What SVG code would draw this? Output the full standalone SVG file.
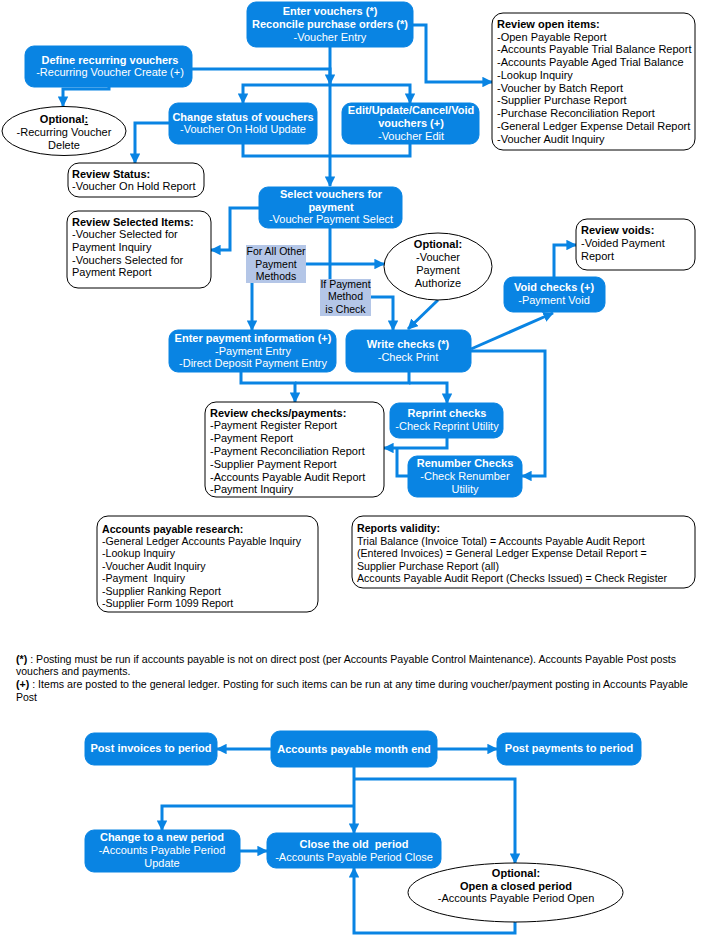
<svg xmlns="http://www.w3.org/2000/svg" width="711" height="937" viewBox="0 0 711 937">
<defs>
<marker id="ah" markerWidth="3.5" markerHeight="3.5" refX="3.2" refY="1.75" orient="auto" markerUnits="strokeWidth">
<path d="M0,0 L3.5,1.75 L0,3.5 z" fill="#0984e3"/>
</marker>
</defs>
<style>
text{font-family:"Liberation Sans",Arial,sans-serif;font-size:11px;}
.b{fill:#0984e3;stroke:#0984e3;stroke-width:1;}
.w{fill:#fff;stroke:#000;stroke-width:1;}
.lbl{fill:#b4c6e7;stroke:none;}
.wt{fill:#fff;text-anchor:middle;}
.bt{fill:#000;}
.ct{fill:#000;text-anchor:middle;}
.bold{font-weight:bold;}
.sm{font-size:10.6px;}
.lb{font-size:10.5px;}
.fn{font-size:10.5px;}
#connectors path{fill:none;stroke:#0984e3;stroke-width:3;}
.ar{marker-end:url(#ah);}
</style>
<rect width="711" height="937" fill="#fff"/>

<g id="connectors">
<path class="ar" d="M330,47 V186"/>
<path class="ar" d="M192,69 H330 V84"/>
<path class="ar" d="M330,85 H243 V103"/>
<path class="ar" d="M330,85 H410 V103"/>
<path class="ar" d="M413,25 H426 V82 H492"/>
<path class="ar" d="M109,87 V89 H63 V106"/>
<path class="ar" d="M169,123 H135 V163"/>
<path d="M243,144 V156 H330"/>
<path d="M410,144 V156 H330"/>
<path class="ar" d="M259,208 H230 V250 H211"/>
<path d="M330,228 V279"/>
<path class="ar" d="M306,264 H384"/>
<path class="ar" d="M252,283 V330"/>
<path class="ar" d="M371,297 H393 V330"/>
<path class="ar" d="M438,300 L408,329"/>
<path class="ar" d="M471,349 L553,313"/>
<path class="ar" d="M554,277 V245 H576"/>
<path class="ar" d="M471,351 H545 V476 H522"/>
<path class="ar" d="M241,372 V383 H295 V402"/>
<path d="M409,372 V383 H295"/>
<path class="ar" d="M409,383 H447 V403"/>
<path class="ar" d="M447,438 V448 H384"/>
<path d="M408,476 H397 V448"/>
<path class="ar" d="M271,749 H217"/>
<path class="ar" d="M437,749 H497"/>
<path class="ar" d="M354,767 V833"/>
<path class="ar" d="M354,779 H515 V863"/>
<path class="ar" d="M354,806 H162 V830"/>
<path class="ar" d="M240,851 H267"/>
<path class="ar" d="M515,922 V933 H354 V868"/>
</g>

<g id="enter-vouchers">
<rect class="b" x="247" y="2" width="166" height="45" rx="9"/>
<text class="wt bold" x="330" y="15">Enter vouchers (*)</text>
<text class="wt bold" x="330" y="28">Reconcile purchase orders (*)</text>
<text class="wt" x="330" y="41">-Voucher Entry</text>
</g>

<g id="define-recurring">
<rect class="b" x="25" y="46" width="167" height="41" rx="9"/>
<text class="wt bold" x="110" y="64">Define recurring vouchers</text>
<text class="wt" x="110" y="76">-Recurring Voucher Create (+)</text>
</g>

<g id="optional-recurring-delete">
<ellipse class="w" cx="64" cy="131" rx="62" ry="24.5"/>
<text class="ct bold" x="64" y="123">Optional<tspan text-decoration="underline">:</tspan></text>
<text class="ct" x="64" y="136">-Recurring Voucher</text>
<text class="ct" x="64" y="149">Delete</text>
</g>

<g id="change-status">
<rect class="b" x="169" y="103" width="148" height="41" rx="9"/>
<text class="wt bold" x="243" y="121">Change status of vouchers</text>
<text class="wt" x="243" y="133">-Voucher On Hold Update</text>
</g>

<g id="edit-vouchers">
<rect class="b" x="342" y="103" width="137" height="41" rx="9"/>
<text class="wt bold" x="411" y="114">Edit/Update/Cancel/Void</text>
<text class="wt bold" x="411" y="127">vouchers (+)</text>
<text class="wt" x="411" y="140">-Voucher Edit</text>
</g>

<g id="review-open-items">
<rect class="w" x="492" y="13" width="203" height="137" rx="11"/>
<text class="bt bold" x="497" y="28">Review open items:</text>
<text class="bt" x="497" y="41">-Open Payable Report</text>
<text class="bt" x="497" y="53">-Accounts Payable Trial Balance Report</text>
<text class="bt" x="497" y="66">-Accounts Payable Aged Trial Balance</text>
<text class="bt" x="497" y="79">-Lookup Inquiry</text>
<text class="bt" x="497" y="92">-Voucher by Batch Report</text>
<text class="bt" x="497" y="104">-Supplier Purchase Report</text>
<text class="bt" x="497" y="117">-Purchase Reconciliation Report</text>
<text class="bt" x="497" y="130">-General Ledger Expense Detail Report</text>
<text class="bt" x="497" y="143">-Voucher Audit Inquiry</text>
</g>

<g id="review-status">
<rect class="w" x="68" y="163" width="136" height="34" rx="11"/>
<text class="bt bold" x="72" y="178">Review Status:</text>
<text class="bt" x="72" y="190">-Voucher On Hold Report</text>
</g>

<g id="select-vouchers">
<rect class="b" x="259" y="187" width="143" height="41" rx="9"/>
<text class="wt bold" x="331" y="198">Select vouchers for</text>
<text class="wt bold" x="331" y="211">payment</text>
<text class="wt" x="331" y="223">-Voucher Payment Select</text>
</g>

<g id="review-selected">
<rect class="w" x="67" y="211" width="144" height="77" rx="11"/>
<text class="bt bold" x="72" y="226">Review Selected Items:</text>
<text class="bt" x="72" y="238">-Voucher Selected for</text>
<text class="bt" x="72" y="251">Payment Inquiry</text>
<text class="bt" x="72" y="264">-Vouchers Selected for</text>
<text class="bt" x="72" y="276">Payment Report</text>
</g>

<g id="label-other-methods">
<rect class="lbl" x="246" y="245" width="60" height="38"/>
<text class="ct lb" x="276" y="255">For All Other</text>
<text class="ct lb" x="276" y="268">Payment</text>
<text class="ct lb" x="276" y="280">Methods</text>
</g>

<g id="label-check">
<rect class="lbl" x="320" y="279" width="51" height="37"/>
<text class="ct lb" x="345.5" y="288">If Payment</text>
<text class="ct lb" x="345.5" y="300">Method</text>
<text class="ct lb" x="345.5" y="313">is Check</text>
</g>

<g id="optional-authorize">
<ellipse class="w" cx="438" cy="266.5" rx="54" ry="33.5"/>
<text class="ct bold" x="438" y="248">Optional:</text>
<text class="ct" x="438" y="261">-Voucher</text>
<text class="ct" x="438" y="274">Payment</text>
<text class="ct" x="438" y="287">Authorize</text>
</g>

<g id="enter-payment">
<rect class="b" x="169" y="330" width="167" height="42" rx="9"/>
<text class="wt bold" x="253" y="342">Enter payment information (+)</text>
<text class="wt" x="253" y="355">-Payment Entry</text>
<text class="wt" x="253" y="367">-Direct Deposit Payment Entry</text>
</g>

<g id="write-checks">
<rect class="b" x="346" y="330" width="125" height="42" rx="9"/>
<text class="wt bold" x="408" y="348">Write checks (*)</text>
<text class="wt" x="408" y="361">-Check Print</text>
</g>

<g id="void-checks">
<rect class="b" x="504" y="277" width="101" height="35" rx="9"/>
<text class="wt bold" x="554" y="291">Void checks (+)</text>
<text class="wt" x="554" y="304">-Payment Void</text>
</g>

<g id="review-voids">
<rect class="w" x="576" y="219" width="119" height="51" rx="11"/>
<text class="bt bold" x="581" y="234">Review voids:</text>
<text class="bt" x="581" y="247">-Voided Payment</text>
<text class="bt" x="581" y="260">Report</text>
</g>

<g id="review-checks">
<rect class="w" x="205" y="402" width="179" height="95" rx="11"/>
<text class="bt bold" x="210" y="417">Review checks/payments:</text>
<text class="bt" x="210" y="429">-Payment Register Report</text>
<text class="bt" x="210" y="442">-Payment Report</text>
<text class="bt" x="210" y="455">-Payment Reconciliation Report</text>
<text class="bt" x="210" y="468">-Supplier Payment Report</text>
<text class="bt" x="210" y="481">-Accounts Payable Audit Report</text>
<text class="bt" x="210" y="493">-Payment Inquiry</text>
</g>

<g id="reprint-checks">
<rect class="b" x="390" y="403" width="113" height="35" rx="9"/>
<text class="wt bold" x="447" y="417">Reprint checks</text>
<text class="wt" x="447" y="430">-Check Reprint Utility</text>
</g>

<g id="renumber-checks">
<rect class="b" x="408" y="456" width="114" height="41" rx="9"/>
<text class="wt bold" x="465" y="467">Renumber Checks</text>
<text class="wt" x="465" y="480">-Check Renumber</text>
<text class="wt" x="465" y="493">Utility</text>
</g>

<g id="ap-research">
<rect class="w" x="97" y="516" width="221" height="96" rx="11"/>
<text class="bt bold sm" x="102" y="533">Accounts payable research:</text>
<text class="bt sm" x="102" y="545">-General Ledger Accounts Payable Inquiry</text>
<text class="bt sm" x="102" y="557">-Lookup Inquiry</text>
<text class="bt sm" x="102" y="570">-Voucher Audit Inquiry</text>
<text class="bt sm" x="102" y="582" xml:space="preserve">-Payment  Inquiry</text>
<text class="bt sm" x="102" y="595">-Supplier Ranking Report</text>
<text class="bt sm" x="102" y="607">-Supplier Form 1099 Report</text>
</g>

<g id="reports-validity">
<rect class="w" x="352" y="516" width="343" height="72" rx="11"/>
<text class="bt bold sm" x="357" y="532">Reports validity:</text>
<text class="bt sm" x="357" y="545">Trial Balance (Invoice Total) = Accounts Payable Audit Report</text>
<text class="bt sm" x="357" y="557">(Entered Invoices) = General Ledger Expense Detail Report =</text>
<text class="bt sm" x="357" y="570">Supplier Purchase Report (all)</text>
<text class="bt sm" x="357" y="582">Accounts Payable Audit Report (Checks Issued) = Check Register</text>
</g>

<g id="footnotes">
<text class="bt fn" x="16" y="663" textLength="660" lengthAdjust="spacingAndGlyphs"><tspan font-weight="bold">(*)</tspan> : Posting must be run if accounts payable is not on direct post (per Accounts Payable Control Maintenance). Accounts Payable Post posts</text>
<text class="bt fn" x="16" y="675">vouchers and payments.</text>
<text class="bt fn" x="16" y="688" textLength="672" lengthAdjust="spacingAndGlyphs"><tspan font-weight="bold">(+)</tspan> : Items are posted to the general ledger. Posting for such items can be run at any time during voucher/payment posting in Accounts Payable</text>
<text class="bt fn" x="16" y="701">Post</text>
</g>

<g id="post-invoices">
<rect class="b" x="85" y="733" width="132" height="32" rx="9"/>
<text class="wt bold" x="151" y="752">Post invoices to period</text>
</g>

<g id="month-end">
<rect class="b" x="271" y="731" width="166" height="36" rx="9"/>
<text class="wt bold" x="354" y="753">Accounts payable month end</text>
</g>

<g id="post-payments">
<rect class="b" x="497" y="733" width="144" height="32" rx="9"/>
<text class="wt bold" x="569" y="752">Post payments to period</text>
</g>

<g id="change-period">
<rect class="b" x="85" y="830" width="155" height="42" rx="9"/>
<text class="wt bold" x="162" y="841">Change to a new period</text>
<text class="wt" x="162" y="854">-Accounts Payable Period</text>
<text class="wt" x="162" y="867">Update</text>
</g>

<g id="close-period">
<rect class="b" x="267" y="833" width="174" height="35" rx="9"/>
<text class="wt bold" x="354" y="848" xml:space="preserve">Close the old  period</text>
<text class="wt" x="354" y="861">-Accounts Payable Period Close</text>
</g>

<g id="optional-open-period">
<ellipse class="w" cx="515.5" cy="892.5" rx="107.5" ry="29.5"/>
<text class="ct bold" x="516" y="877">Optional:</text>
<text class="ct bold" x="516" y="890">Open a closed period</text>
<text class="ct" x="516" y="902">-Accounts Payable Period Open</text>
</g>
</svg>
